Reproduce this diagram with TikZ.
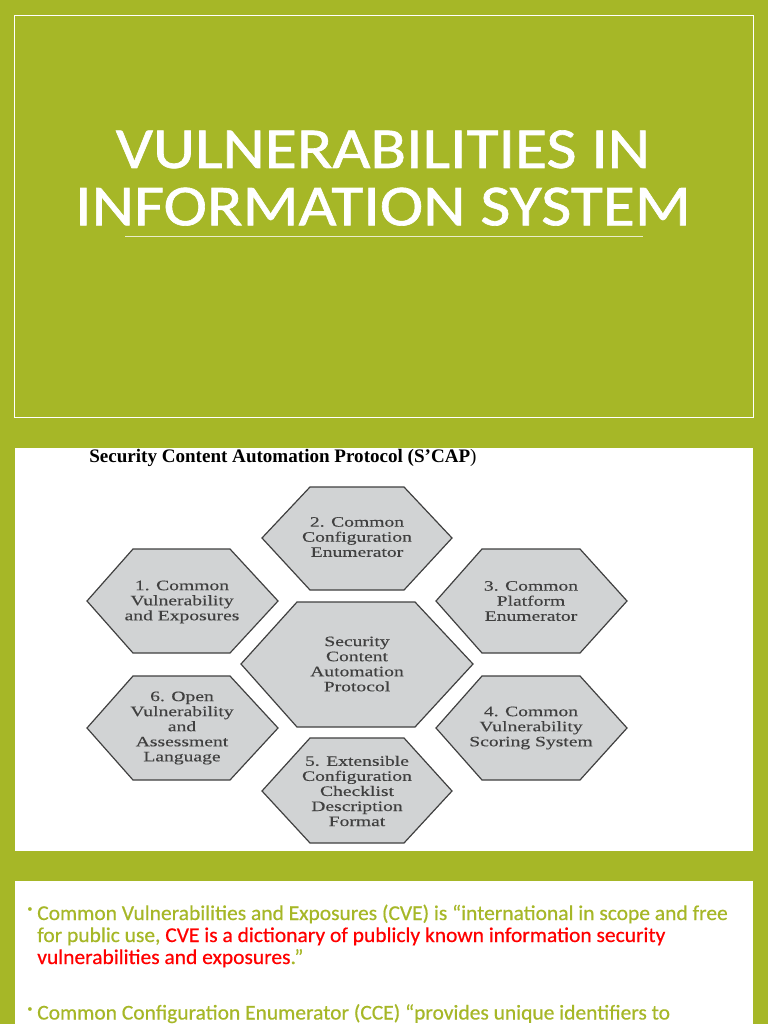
\documentclass[tikz,border=0pt]{standalone}
\usepackage{xcolor}
\usepackage{fontspec}
\setmainfont{Carlito}
\newfontfamily\bookfont{Liberation Serif}
\newfontfamily\hexfont[FakeStretch=1.36,FakeBold=0.3]{Liberation Serif}
\newfontfamily\titlefont[FakeStretch=1.13,FakeBold=1.1]{Carlito}
\newfontfamily\bodyfont[FakeStretch=1.02,FakeBold=0.55]{Carlito}
\definecolor{slidegreen}{HTML}{A6B727}
\definecolor{hexgrey}{HTML}{D1D3D4}
\tikzset{
  hexbox/.style={draw=black!75, fill=hexgrey, line width=0.9pt},
  hextext/.style={align=center, text=black!75, font=\hexfont\fontsize{10.8}{11.3}\selectfont},
  titletext/.style={text=white, font=\titlefont\fontsize{43.5}{43}\selectfont, align=center},
  bodyline/.style={anchor=base west, inner sep=0pt, text=slidegreen, font=\bodyfont\fontsize{15.8}{16}\selectfont},
  bulletdot/.style={anchor=base west, inner sep=0pt, text=slidegreen, font=\fontsize{8}{9}\selectfont}
}
\begin{document}
\begin{tikzpicture}[x=0.75pt, y=-0.75pt]
  \useasboundingbox (0,0) rectangle (768,1024);
  \clip (0,0) rectangle (768,1024);
  \fill[slidegreen] (0,0) rectangle (768,1024);

  %% title slide
  \draw[white, line width=0.75pt] (14.5,15.5) rectangle (753.5,417.5);
  \node[titletext] (title) at (383,178) {VULNERABILITIES IN\\INFORMATION SYSTEM};
  \draw[white!75!slidegreen, line width=0.6pt] (125,236) -- (643,236);

  %% diagram slide
  \fill[white] (15,448) rectangle (753,851);
  \node[anchor=base west, inner sep=0pt, font=\bookfont\bfseries\fontsize{14.3}{15}\selectfont] (scap) at (89,462)
    {Security Content Automation Protocol (S’CAP\textmd{)}};

  %1
  \draw[hexbox] (87,601) -- (133,549) -- (230,549) -- (278,601) -- (230,653) -- (133,653) -- cycle;
  \node[hextext] (cve) at (182,602) {1. Common\\Vulnerability\\and Exposures};

  %2
  \draw[hexbox] (262,538) -- (310,487) -- (404,487) -- (452,538) -- (404,590) -- (310,590) -- cycle;
  \node[hextext] (cce) at (357,537) {2. Common\\Configuration\\Enumerator};

  %3
  \draw[hexbox] (436,601) -- (482,549) -- (580,549) -- (627,601) -- (580,653) -- (482,653) -- cycle;
  \node[hextext] (cpe) at (531,601) {3. Common\\Platform\\Enumerator};

  %4
  \draw[hexbox] (436,728) -- (482,676) -- (580,676) -- (627,728) -- (580,780) -- (482,780) -- cycle;
  \node[hextext] (cvss) at (531,728) {4. Common\\Vulnerability\\Scoring System};

  %5
  \draw[hexbox] (262,791) -- (310,738) -- (404,738) -- (452,791) -- (404,843) -- (310,843) -- cycle;
  \node[hextext] (xccdf) at (357,791) {5. Extensible\\Configuration\\Checklist\\Description\\Format};

  %6
  \draw[hexbox] (87,728) -- (133,676) -- (230,676) -- (278,728) -- (230,780) -- (133,780) -- cycle;
  \node[hextext] (oval) at (182,728) {6. Open\\Vulnerability\\and\\Assessment\\Language};

  %center
  \draw[hexbox] (241,664) -- (297,602) -- (415,602) -- (473,664) -- (415,727) -- (297,727) -- cycle;
  \node[hextext] (center) at (357,664) {Security\\Content\\Automation\\Protocol};

  %% text slide
  \fill[white] (15,881) rectangle (753,1024);
  \node[bulletdot] (dota) at (27,912) {\textbullet};
  \node[bodyline] (linea) at (37,920) {Common Vulnerabilities and Exposures (CVE) is “international in scope and free};
  \node[bodyline] (lineb) at (37,942) {for public use, \textcolor{red}{CVE is a dictionary of publicly known information security}};
  \node[bodyline] (linec) at (37,964) {\textcolor{red}{vulnerabilities and exposures}.”};
  \node[bulletdot] (dotb) at (27,1012) {\textbullet};
  \node[bodyline] (lined) at (37,1019.5) {Common Configuration Enumerator (CCE) “provides unique identifiers to};
\end{tikzpicture}
\end{document}
